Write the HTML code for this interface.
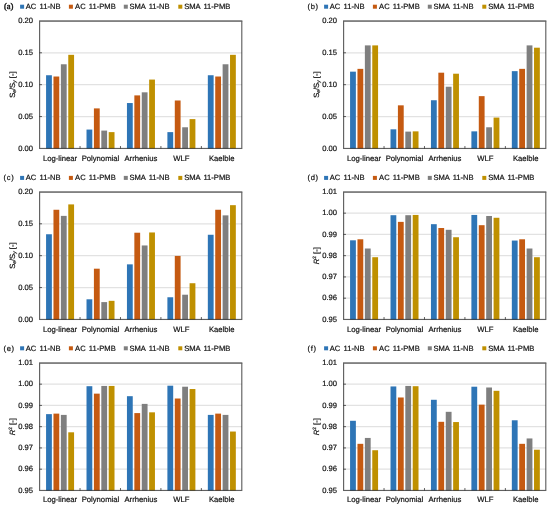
<!DOCTYPE html>
<html lang="en">
<head>
<meta charset="utf-8">
<title>Figure</title>
<style>
html,body{margin:0;padding:0;background:#fff;}
body{width:550px;height:507px;overflow:hidden;}
svg{display:block;filter:blur(0.3px);}
text{font-family:"Liberation Sans",Arial,sans-serif;font-size:7.6px;fill:#111;stroke:#111;stroke-width:0.2px;text-rendering:geometricPrecision;}
.ser{font-family:"Liberation Serif","Times New Roman",serif;font-size:8.6px;stroke-width:0.4px;}
.lg{font-size:7.6px;word-spacing:1.1px;}
.xl{font-size:7.7px;}
.pl{letter-spacing:0.65px;}
.it{font-style:italic;}
.sub{font-size:5px;font-style:italic;}
.sup{font-size:4.7px;}
</style>
</head>
<body>
<svg width="550" height="507" viewBox="0 0 550 507">
<rect x="0" y="0" width="550" height="507" fill="#ffffff"/>

<g transform="translate(0,0)">
<g>
<text x="3.9" y="9" class="ser">(a)</text>
<rect x="20.1" y="4.7" width="4" height="4" fill="#2E75B6"/>
<text x="25.8" y="9" class="lg">AC 11-NB</text>
<rect x="68.9" y="4.7" width="4" height="4" fill="#C55A11"/>
<text x="75.1" y="9" class="lg">AC 11-PMB</text>
<rect x="123.8" y="4.7" width="4" height="4" fill="#7F7F7F"/>
<text x="129.4" y="9" class="lg">SMA 11-NB</text>
<rect x="178.3" y="4.7" width="4" height="4" fill="#BF9000"/>
<text x="184.2" y="9" class="lg">SMA 11-PMB</text>
</g>
<line x1="39.6" y1="116.56" x2="241.8" y2="116.56" stroke="#e2e2e2" stroke-width="1.2"/>
<line x1="39.6" y1="84.67" x2="241.8" y2="84.67" stroke="#e2e2e2" stroke-width="1.2"/>
<line x1="39.6" y1="52.79" x2="241.8" y2="52.79" stroke="#e2e2e2" stroke-width="1.2"/>
<rect x="46.07" y="75.24" width="5.8" height="73.21" fill="#2E75B6"/>
<rect x="53.47" y="76.51" width="5.8" height="71.94" fill="#C55A11"/>
<rect x="60.87" y="64.27" width="5.8" height="84.18" fill="#7F7F7F"/>
<rect x="68.27" y="54.83" width="5.8" height="93.62" fill="#BF9000"/>
<rect x="86.51" y="129.57" width="5.8" height="18.88" fill="#2E75B6"/>
<rect x="93.91" y="108.4" width="5.8" height="40.05" fill="#C55A11"/>
<rect x="101.31" y="130.59" width="5.8" height="17.86" fill="#7F7F7F"/>
<rect x="108.71" y="132.12" width="5.8" height="16.33" fill="#BF9000"/>
<rect x="126.95" y="103.04" width="5.8" height="45.41" fill="#2E75B6"/>
<rect x="134.35" y="95.39" width="5.8" height="53.06" fill="#C55A11"/>
<rect x="141.75" y="92.33" width="5.8" height="56.12" fill="#7F7F7F"/>
<rect x="149.15" y="79.57" width="5.8" height="68.88" fill="#BF9000"/>
<rect x="167.39" y="132.12" width="5.8" height="16.33" fill="#2E75B6"/>
<rect x="174.79" y="100.49" width="5.8" height="47.96" fill="#C55A11"/>
<rect x="182.19" y="127.28" width="5.8" height="21.17" fill="#7F7F7F"/>
<rect x="189.59" y="119.11" width="5.8" height="29.34" fill="#BF9000"/>
<rect x="207.83" y="75.24" width="5.8" height="73.21" fill="#2E75B6"/>
<rect x="215.23" y="76.51" width="5.8" height="71.94" fill="#C55A11"/>
<rect x="222.63" y="64.27" width="5.8" height="84.18" fill="#7F7F7F"/>
<rect x="230.03" y="54.83" width="5.8" height="93.62" fill="#BF9000"/>
<line x1="39.6" y1="116.56" x2="42.0" y2="116.56" stroke="#606060" stroke-width="1"/>
<line x1="39.6" y1="84.67" x2="42.0" y2="84.67" stroke="#606060" stroke-width="1"/>
<line x1="39.6" y1="52.79" x2="42.0" y2="52.79" stroke="#606060" stroke-width="1"/>
<line x1="80.04" y1="148.45" x2="80.04" y2="146.04999999999998" stroke="#606060" stroke-width="1"/>
<line x1="120.48" y1="148.45" x2="120.48" y2="146.04999999999998" stroke="#606060" stroke-width="1"/>
<line x1="160.92" y1="148.45" x2="160.92" y2="146.04999999999998" stroke="#606060" stroke-width="1"/>
<line x1="201.36" y1="148.45" x2="201.36" y2="146.04999999999998" stroke="#606060" stroke-width="1"/>
<rect x="39.6" y="20.9" width="202.2" height="127.55" fill="none" stroke="#606060" stroke-width="1.15" style="mix-blend-mode:multiply"/>
<line x1="39.1" y1="21.5" x2="242.3" y2="21.5" stroke="#606060" stroke-width="0.6"/>
<text x="33" y="150.75" text-anchor="end" font-size="7.5">0.00</text>
<text x="33" y="118.86" text-anchor="end" font-size="7.5">0.05</text>
<text x="33" y="86.97" text-anchor="end" font-size="7.5">0.10</text>
<text x="33" y="55.09" text-anchor="end" font-size="7.5">0.15</text>
<text x="33" y="23.2" text-anchor="end" font-size="7.5">0.20</text>
<text x="60.02" y="161" text-anchor="middle" class="xl">Log-linear</text>
<text x="100.46" y="161" text-anchor="middle" class="xl">Polynomial</text>
<text x="140.9" y="161" text-anchor="middle" class="xl">Arrhenius</text>
<text x="181.34" y="161" text-anchor="middle" class="xl">WLF</text>
<text x="221.78" y="161" text-anchor="middle" class="xl">Kaelble</text>
<text transform="translate(14.5,84.67) rotate(-90)" text-anchor="middle">S<tspan class="sub" dy="1.5">e</tspan><tspan dy="-1.5">/S</tspan><tspan class="sub" dy="1.5">y</tspan><tspan dy="-1.5"> [-]</tspan></text>
</g>
<g transform="translate(304,0)">
<g>
<text x="3.5" y="9" class="pl">(b)</text>
<rect x="20.1" y="4.7" width="4" height="4" fill="#2E75B6"/>
<text x="25.8" y="9" class="lg">AC 11-NB</text>
<rect x="68.9" y="4.7" width="4" height="4" fill="#C55A11"/>
<text x="75.1" y="9" class="lg">AC 11-PMB</text>
<rect x="123.8" y="4.7" width="4" height="4" fill="#7F7F7F"/>
<text x="129.4" y="9" class="lg">SMA 11-NB</text>
<rect x="178.3" y="4.7" width="4" height="4" fill="#BF9000"/>
<text x="184.2" y="9" class="lg">SMA 11-PMB</text>
</g>
<line x1="39.6" y1="116.56" x2="241.8" y2="116.56" stroke="#e2e2e2" stroke-width="1.2"/>
<line x1="39.6" y1="84.67" x2="241.8" y2="84.67" stroke="#e2e2e2" stroke-width="1.2"/>
<line x1="39.6" y1="52.79" x2="241.8" y2="52.79" stroke="#e2e2e2" stroke-width="1.2"/>
<rect x="46.07" y="71.66" width="5.8" height="76.79" fill="#2E75B6"/>
<rect x="53.47" y="68.86" width="5.8" height="79.59" fill="#C55A11"/>
<rect x="60.87" y="45.39" width="5.8" height="103.06" fill="#7F7F7F"/>
<rect x="68.27" y="45.39" width="5.8" height="103.06" fill="#BF9000"/>
<rect x="86.51" y="129.32" width="5.8" height="19.13" fill="#2E75B6"/>
<rect x="93.91" y="105.34" width="5.8" height="43.11" fill="#C55A11"/>
<rect x="101.31" y="131.61" width="5.8" height="16.84" fill="#7F7F7F"/>
<rect x="108.71" y="131.36" width="5.8" height="17.09" fill="#BF9000"/>
<rect x="126.95" y="100.24" width="5.8" height="48.21" fill="#2E75B6"/>
<rect x="134.35" y="72.69" width="5.8" height="75.76" fill="#C55A11"/>
<rect x="141.75" y="86.72" width="5.8" height="61.73" fill="#7F7F7F"/>
<rect x="149.15" y="73.71" width="5.8" height="74.74" fill="#BF9000"/>
<rect x="167.39" y="131.36" width="5.8" height="17.09" fill="#2E75B6"/>
<rect x="174.79" y="96.15" width="5.8" height="52.3" fill="#C55A11"/>
<rect x="182.19" y="127.28" width="5.8" height="21.17" fill="#7F7F7F"/>
<rect x="189.59" y="117.58" width="5.8" height="30.87" fill="#BF9000"/>
<rect x="207.83" y="71.15" width="5.8" height="77.3" fill="#2E75B6"/>
<rect x="215.23" y="68.86" width="5.8" height="79.59" fill="#C55A11"/>
<rect x="222.63" y="45.39" width="5.8" height="103.06" fill="#7F7F7F"/>
<rect x="230.03" y="47.69" width="5.8" height="100.76" fill="#BF9000"/>
<line x1="39.6" y1="116.56" x2="42.0" y2="116.56" stroke="#606060" stroke-width="1"/>
<line x1="39.6" y1="84.67" x2="42.0" y2="84.67" stroke="#606060" stroke-width="1"/>
<line x1="39.6" y1="52.79" x2="42.0" y2="52.79" stroke="#606060" stroke-width="1"/>
<line x1="80.04" y1="148.45" x2="80.04" y2="146.04999999999998" stroke="#606060" stroke-width="1"/>
<line x1="120.48" y1="148.45" x2="120.48" y2="146.04999999999998" stroke="#606060" stroke-width="1"/>
<line x1="160.92" y1="148.45" x2="160.92" y2="146.04999999999998" stroke="#606060" stroke-width="1"/>
<line x1="201.36" y1="148.45" x2="201.36" y2="146.04999999999998" stroke="#606060" stroke-width="1"/>
<rect x="39.6" y="20.9" width="202.2" height="127.55" fill="none" stroke="#606060" stroke-width="1.15" style="mix-blend-mode:multiply"/>
<line x1="39.1" y1="21.5" x2="242.3" y2="21.5" stroke="#606060" stroke-width="0.6"/>
<text x="33" y="150.75" text-anchor="end" font-size="7.5">0.00</text>
<text x="33" y="118.86" text-anchor="end" font-size="7.5">0.05</text>
<text x="33" y="86.97" text-anchor="end" font-size="7.5">0.10</text>
<text x="33" y="55.09" text-anchor="end" font-size="7.5">0.15</text>
<text x="33" y="23.2" text-anchor="end" font-size="7.5">0.20</text>
<text x="60.02" y="161" text-anchor="middle" class="xl">Log-linear</text>
<text x="100.46" y="161" text-anchor="middle" class="xl">Polynomial</text>
<text x="140.9" y="161" text-anchor="middle" class="xl">Arrhenius</text>
<text x="181.34" y="161" text-anchor="middle" class="xl">WLF</text>
<text x="221.78" y="161" text-anchor="middle" class="xl">Kaelble</text>
<text transform="translate(14.5,84.67) rotate(-90)" text-anchor="middle">S<tspan class="sub" dy="1.5">e</tspan><tspan dy="-1.5">/S</tspan><tspan class="sub" dy="1.5">y</tspan><tspan dy="-1.5"> [-]</tspan></text>
</g>
<g transform="translate(0,171)">
<g>
<text x="3.5" y="9" class="pl">(c)</text>
<rect x="20.1" y="4.9" width="4" height="4" fill="#2E75B6"/>
<text x="25.8" y="9" class="lg">AC 11-NB</text>
<rect x="68.9" y="4.9" width="4" height="4" fill="#C55A11"/>
<text x="75.1" y="9" class="lg">AC 11-PMB</text>
<rect x="123.8" y="4.9" width="4" height="4" fill="#7F7F7F"/>
<text x="129.4" y="9" class="lg">SMA 11-NB</text>
<rect x="178.3" y="4.9" width="4" height="4" fill="#BF9000"/>
<text x="184.2" y="9" class="lg">SMA 11-PMB</text>
</g>
<line x1="39.6" y1="116.56" x2="241.8" y2="116.56" stroke="#e2e2e2" stroke-width="1.2"/>
<line x1="39.6" y1="84.67" x2="241.8" y2="84.67" stroke="#e2e2e2" stroke-width="1.2"/>
<line x1="39.6" y1="52.79" x2="241.8" y2="52.79" stroke="#e2e2e2" stroke-width="1.2"/>
<rect x="46.07" y="63.25" width="5.8" height="85.2" fill="#2E75B6"/>
<rect x="53.47" y="38.76" width="5.8" height="109.69" fill="#C55A11"/>
<rect x="60.87" y="44.88" width="5.8" height="103.57" fill="#7F7F7F"/>
<rect x="68.27" y="33.4" width="5.8" height="115.05" fill="#BF9000"/>
<rect x="86.51" y="128.3" width="5.8" height="20.15" fill="#2E75B6"/>
<rect x="93.91" y="97.69" width="5.8" height="50.76" fill="#C55A11"/>
<rect x="101.31" y="131.1" width="5.8" height="17.35" fill="#7F7F7F"/>
<rect x="108.71" y="129.83" width="5.8" height="18.62" fill="#BF9000"/>
<rect x="126.95" y="93.35" width="5.8" height="55.1" fill="#2E75B6"/>
<rect x="134.35" y="61.72" width="5.8" height="86.73" fill="#C55A11"/>
<rect x="141.75" y="74.47" width="5.8" height="73.98" fill="#7F7F7F"/>
<rect x="149.15" y="61.46" width="5.8" height="86.99" fill="#BF9000"/>
<rect x="167.39" y="126.26" width="5.8" height="22.19" fill="#2E75B6"/>
<rect x="174.79" y="84.93" width="5.8" height="63.52" fill="#C55A11"/>
<rect x="182.19" y="123.71" width="5.8" height="24.74" fill="#7F7F7F"/>
<rect x="189.59" y="112.23" width="5.8" height="36.22" fill="#BF9000"/>
<rect x="207.83" y="63.76" width="5.8" height="84.69" fill="#2E75B6"/>
<rect x="215.23" y="38.76" width="5.8" height="109.69" fill="#C55A11"/>
<rect x="222.63" y="44.37" width="5.8" height="104.08" fill="#7F7F7F"/>
<rect x="230.03" y="34.17" width="5.8" height="114.28" fill="#BF9000"/>
<line x1="39.6" y1="116.56" x2="42.0" y2="116.56" stroke="#606060" stroke-width="1"/>
<line x1="39.6" y1="84.67" x2="42.0" y2="84.67" stroke="#606060" stroke-width="1"/>
<line x1="39.6" y1="52.79" x2="42.0" y2="52.79" stroke="#606060" stroke-width="1"/>
<line x1="80.04" y1="148.45" x2="80.04" y2="146.04999999999998" stroke="#606060" stroke-width="1"/>
<line x1="120.48" y1="148.45" x2="120.48" y2="146.04999999999998" stroke="#606060" stroke-width="1"/>
<line x1="160.92" y1="148.45" x2="160.92" y2="146.04999999999998" stroke="#606060" stroke-width="1"/>
<line x1="201.36" y1="148.45" x2="201.36" y2="146.04999999999998" stroke="#606060" stroke-width="1"/>
<rect x="39.6" y="20.9" width="202.2" height="127.55" fill="none" stroke="#606060" stroke-width="1.15" style="mix-blend-mode:multiply"/>
<line x1="39.1" y1="21.5" x2="242.3" y2="21.5" stroke="#606060" stroke-width="0.6"/>
<text x="33" y="150.75" text-anchor="end" font-size="7.5">0.00</text>
<text x="33" y="118.86" text-anchor="end" font-size="7.5">0.05</text>
<text x="33" y="86.97" text-anchor="end" font-size="7.5">0.10</text>
<text x="33" y="55.09" text-anchor="end" font-size="7.5">0.15</text>
<text x="33" y="23.2" text-anchor="end" font-size="7.5">0.20</text>
<text x="60.02" y="161" text-anchor="middle" class="xl">Log-linear</text>
<text x="100.46" y="161" text-anchor="middle" class="xl">Polynomial</text>
<text x="140.9" y="161" text-anchor="middle" class="xl">Arrhenius</text>
<text x="181.34" y="161" text-anchor="middle" class="xl">WLF</text>
<text x="221.78" y="161" text-anchor="middle" class="xl">Kaelble</text>
<text transform="translate(14.5,84.67) rotate(-90)" text-anchor="middle">S<tspan class="sub" dy="1.5">e</tspan><tspan dy="-1.5">/S</tspan><tspan class="sub" dy="1.5">y</tspan><tspan dy="-1.5"> [-]</tspan></text>
</g>
<g transform="translate(304,171)">
<g>
<text x="3.5" y="9" class="pl">(d)</text>
<rect x="20.1" y="4.9" width="4" height="4" fill="#2E75B6"/>
<text x="25.8" y="9" class="lg">AC 11-NB</text>
<rect x="68.9" y="4.9" width="4" height="4" fill="#C55A11"/>
<text x="75.1" y="9" class="lg">AC 11-PMB</text>
<rect x="123.8" y="4.9" width="4" height="4" fill="#7F7F7F"/>
<text x="129.4" y="9" class="lg">SMA 11-NB</text>
<rect x="178.3" y="4.9" width="4" height="4" fill="#BF9000"/>
<text x="184.2" y="9" class="lg">SMA 11-PMB</text>
</g>
<line x1="39.6" y1="127.19" x2="241.8" y2="127.19" stroke="#e2e2e2" stroke-width="1.2"/>
<line x1="39.6" y1="105.93" x2="241.8" y2="105.93" stroke="#e2e2e2" stroke-width="1.2"/>
<line x1="39.6" y1="84.67" x2="241.8" y2="84.67" stroke="#e2e2e2" stroke-width="1.2"/>
<line x1="39.6" y1="63.42" x2="241.8" y2="63.42" stroke="#e2e2e2" stroke-width="1.2"/>
<line x1="39.6" y1="42.16" x2="241.8" y2="42.16" stroke="#e2e2e2" stroke-width="1.2"/>
<rect x="46.07" y="69.31" width="5.8" height="79.14" fill="#2E75B6"/>
<rect x="53.47" y="68.28" width="5.8" height="80.17" fill="#C55A11"/>
<rect x="60.87" y="77.51" width="5.8" height="70.94" fill="#7F7F7F"/>
<rect x="68.27" y="86.21" width="5.8" height="62.24" fill="#BF9000"/>
<rect x="86.51" y="44.2" width="5.8" height="104.25" fill="#2E75B6"/>
<rect x="93.91" y="50.87" width="5.8" height="97.58" fill="#C55A11"/>
<rect x="101.31" y="44.2" width="5.8" height="104.25" fill="#7F7F7F"/>
<rect x="108.71" y="43.94" width="5.8" height="104.51" fill="#BF9000"/>
<rect x="126.95" y="53.17" width="5.8" height="95.28" fill="#2E75B6"/>
<rect x="134.35" y="57.02" width="5.8" height="91.43" fill="#C55A11"/>
<rect x="141.75" y="58.8" width="5.8" height="89.65" fill="#7F7F7F"/>
<rect x="149.15" y="66.24" width="5.8" height="82.21" fill="#BF9000"/>
<rect x="167.39" y="43.94" width="5.8" height="104.51" fill="#2E75B6"/>
<rect x="174.79" y="54.19" width="5.8" height="94.26" fill="#C55A11"/>
<rect x="182.19" y="44.99" width="5.8" height="103.46" fill="#7F7F7F"/>
<rect x="189.59" y="46.77" width="5.8" height="101.68" fill="#BF9000"/>
<rect x="207.83" y="69.56" width="5.8" height="78.89" fill="#2E75B6"/>
<rect x="215.23" y="68.28" width="5.8" height="80.17" fill="#C55A11"/>
<rect x="222.63" y="77.51" width="5.8" height="70.94" fill="#7F7F7F"/>
<rect x="230.03" y="86.21" width="5.8" height="62.24" fill="#BF9000"/>
<line x1="39.6" y1="127.19" x2="42.0" y2="127.19" stroke="#606060" stroke-width="1"/>
<line x1="39.6" y1="105.93" x2="42.0" y2="105.93" stroke="#606060" stroke-width="1"/>
<line x1="39.6" y1="84.67" x2="42.0" y2="84.67" stroke="#606060" stroke-width="1"/>
<line x1="39.6" y1="63.42" x2="42.0" y2="63.42" stroke="#606060" stroke-width="1"/>
<line x1="39.6" y1="42.16" x2="42.0" y2="42.16" stroke="#606060" stroke-width="1"/>
<line x1="80.04" y1="148.45" x2="80.04" y2="146.04999999999998" stroke="#606060" stroke-width="1"/>
<line x1="120.48" y1="148.45" x2="120.48" y2="146.04999999999998" stroke="#606060" stroke-width="1"/>
<line x1="160.92" y1="148.45" x2="160.92" y2="146.04999999999998" stroke="#606060" stroke-width="1"/>
<line x1="201.36" y1="148.45" x2="201.36" y2="146.04999999999998" stroke="#606060" stroke-width="1"/>
<rect x="39.6" y="20.9" width="202.2" height="127.55" fill="none" stroke="#606060" stroke-width="1.15" style="mix-blend-mode:multiply"/>
<line x1="39.1" y1="21.5" x2="242.3" y2="21.5" stroke="#606060" stroke-width="0.6"/>
<text x="33" y="150.75" text-anchor="end" font-size="7.5">0.95</text>
<text x="33" y="129.49" text-anchor="end" font-size="7.5">0.96</text>
<text x="33" y="108.23" text-anchor="end" font-size="7.5">0.97</text>
<text x="33" y="86.97" text-anchor="end" font-size="7.5">0.98</text>
<text x="33" y="65.72" text-anchor="end" font-size="7.5">0.99</text>
<text x="33" y="44.46" text-anchor="end" font-size="7.5">1.00</text>
<text x="33" y="23.2" text-anchor="end" font-size="7.5">1.01</text>
<text x="60.02" y="161" text-anchor="middle" class="xl">Log-linear</text>
<text x="100.46" y="161" text-anchor="middle" class="xl">Polynomial</text>
<text x="140.9" y="161" text-anchor="middle" class="xl">Arrhenius</text>
<text x="181.34" y="161" text-anchor="middle" class="xl">WLF</text>
<text x="221.78" y="161" text-anchor="middle" class="xl">Kaelble</text>
<text transform="translate(14.5,84.67) rotate(-90)" text-anchor="middle"><tspan class="it">R</tspan><tspan class="sup" dy="-2.4">2</tspan><tspan dy="2.4"> [-]</tspan></text>
</g>
<g transform="translate(0,342)">
<g>
<text x="3.5" y="9" class="pl">(e)</text>
<rect x="20.1" y="4.3" width="4" height="4" fill="#2E75B6"/>
<text x="25.8" y="9" class="lg">AC 11-NB</text>
<rect x="68.9" y="4.3" width="4" height="4" fill="#C55A11"/>
<text x="75.1" y="9" class="lg">AC 11-PMB</text>
<rect x="123.8" y="4.3" width="4" height="4" fill="#7F7F7F"/>
<text x="129.4" y="9" class="lg">SMA 11-NB</text>
<rect x="178.3" y="4.3" width="4" height="4" fill="#BF9000"/>
<text x="184.2" y="9" class="lg">SMA 11-PMB</text>
</g>
<line x1="39.6" y1="127.19" x2="241.8" y2="127.19" stroke="#e2e2e2" stroke-width="1.2"/>
<line x1="39.6" y1="105.93" x2="241.8" y2="105.93" stroke="#e2e2e2" stroke-width="1.2"/>
<line x1="39.6" y1="84.67" x2="241.8" y2="84.67" stroke="#e2e2e2" stroke-width="1.2"/>
<line x1="39.6" y1="63.42" x2="241.8" y2="63.42" stroke="#e2e2e2" stroke-width="1.2"/>
<line x1="39.6" y1="42.16" x2="241.8" y2="42.16" stroke="#e2e2e2" stroke-width="1.2"/>
<rect x="46.07" y="72.13" width="5.8" height="76.32" fill="#2E75B6"/>
<rect x="53.47" y="71.62" width="5.8" height="76.83" fill="#C55A11"/>
<rect x="60.87" y="72.9" width="5.8" height="75.55" fill="#7F7F7F"/>
<rect x="68.27" y="90.31" width="5.8" height="58.14" fill="#BF9000"/>
<rect x="86.51" y="44.2" width="5.8" height="104.25" fill="#2E75B6"/>
<rect x="93.91" y="51.64" width="5.8" height="96.81" fill="#C55A11"/>
<rect x="101.31" y="43.94" width="5.8" height="104.51" fill="#7F7F7F"/>
<rect x="108.71" y="43.94" width="5.8" height="104.51" fill="#BF9000"/>
<rect x="126.95" y="54.19" width="5.8" height="94.26" fill="#2E75B6"/>
<rect x="134.35" y="71.09" width="5.8" height="77.36" fill="#C55A11"/>
<rect x="141.75" y="61.89" width="5.8" height="86.56" fill="#7F7F7F"/>
<rect x="149.15" y="70.33" width="5.8" height="78.12" fill="#BF9000"/>
<rect x="167.39" y="43.69" width="5.8" height="104.76" fill="#2E75B6"/>
<rect x="174.79" y="56.51" width="5.8" height="91.94" fill="#C55A11"/>
<rect x="182.19" y="44.71" width="5.8" height="103.74" fill="#7F7F7F"/>
<rect x="189.59" y="47.03" width="5.8" height="101.42" fill="#BF9000"/>
<rect x="207.83" y="72.9" width="5.8" height="75.55" fill="#2E75B6"/>
<rect x="215.23" y="71.62" width="5.8" height="76.83" fill="#C55A11"/>
<rect x="222.63" y="72.9" width="5.8" height="75.55" fill="#7F7F7F"/>
<rect x="230.03" y="89.54" width="5.8" height="58.91" fill="#BF9000"/>
<line x1="39.6" y1="127.19" x2="42.0" y2="127.19" stroke="#606060" stroke-width="1"/>
<line x1="39.6" y1="105.93" x2="42.0" y2="105.93" stroke="#606060" stroke-width="1"/>
<line x1="39.6" y1="84.67" x2="42.0" y2="84.67" stroke="#606060" stroke-width="1"/>
<line x1="39.6" y1="63.42" x2="42.0" y2="63.42" stroke="#606060" stroke-width="1"/>
<line x1="39.6" y1="42.16" x2="42.0" y2="42.16" stroke="#606060" stroke-width="1"/>
<line x1="80.04" y1="148.45" x2="80.04" y2="146.04999999999998" stroke="#606060" stroke-width="1"/>
<line x1="120.48" y1="148.45" x2="120.48" y2="146.04999999999998" stroke="#606060" stroke-width="1"/>
<line x1="160.92" y1="148.45" x2="160.92" y2="146.04999999999998" stroke="#606060" stroke-width="1"/>
<line x1="201.36" y1="148.45" x2="201.36" y2="146.04999999999998" stroke="#606060" stroke-width="1"/>
<rect x="39.6" y="20.9" width="202.2" height="127.55" fill="none" stroke="#606060" stroke-width="1.15" style="mix-blend-mode:multiply"/>
<line x1="39.1" y1="21.5" x2="242.3" y2="21.5" stroke="#606060" stroke-width="0.6"/>
<text x="33" y="150.75" text-anchor="end" font-size="7.5">0.95</text>
<text x="33" y="129.49" text-anchor="end" font-size="7.5">0.96</text>
<text x="33" y="108.23" text-anchor="end" font-size="7.5">0.97</text>
<text x="33" y="86.97" text-anchor="end" font-size="7.5">0.98</text>
<text x="33" y="65.72" text-anchor="end" font-size="7.5">0.99</text>
<text x="33" y="44.46" text-anchor="end" font-size="7.5">1.00</text>
<text x="33" y="23.2" text-anchor="end" font-size="7.5">1.01</text>
<text x="60.02" y="160" text-anchor="middle" class="xl">Log-linear</text>
<text x="100.46" y="160" text-anchor="middle" class="xl">Polynomial</text>
<text x="140.9" y="160" text-anchor="middle" class="xl">Arrhenius</text>
<text x="181.34" y="160" text-anchor="middle" class="xl">WLF</text>
<text x="221.78" y="160" text-anchor="middle" class="xl">Kaelble</text>
<text transform="translate(14.5,84.67) rotate(-90)" text-anchor="middle"><tspan class="it">R</tspan><tspan class="sup" dy="-2.4">2</tspan><tspan dy="2.4"> [-]</tspan></text>
</g>
<g transform="translate(304,342)">
<g>
<text x="3.5" y="9" class="pl">(f)</text>
<rect x="20.1" y="4.3" width="4" height="4" fill="#2E75B6"/>
<text x="25.8" y="9" class="lg">AC 11-NB</text>
<rect x="68.9" y="4.3" width="4" height="4" fill="#C55A11"/>
<text x="75.1" y="9" class="lg">AC 11-PMB</text>
<rect x="123.8" y="4.3" width="4" height="4" fill="#7F7F7F"/>
<text x="129.4" y="9" class="lg">SMA 11-NB</text>
<rect x="178.3" y="4.3" width="4" height="4" fill="#BF9000"/>
<text x="184.2" y="9" class="lg">SMA 11-PMB</text>
</g>
<line x1="39.6" y1="127.19" x2="241.8" y2="127.19" stroke="#e2e2e2" stroke-width="1.2"/>
<line x1="39.6" y1="105.93" x2="241.8" y2="105.93" stroke="#e2e2e2" stroke-width="1.2"/>
<line x1="39.6" y1="84.67" x2="241.8" y2="84.67" stroke="#e2e2e2" stroke-width="1.2"/>
<line x1="39.6" y1="63.42" x2="241.8" y2="63.42" stroke="#e2e2e2" stroke-width="1.2"/>
<line x1="39.6" y1="42.16" x2="241.8" y2="42.16" stroke="#e2e2e2" stroke-width="1.2"/>
<rect x="46.07" y="78.79" width="5.8" height="69.66" fill="#2E75B6"/>
<rect x="53.47" y="101.83" width="5.8" height="46.62" fill="#C55A11"/>
<rect x="60.87" y="95.94" width="5.8" height="52.51" fill="#7F7F7F"/>
<rect x="68.27" y="108.23" width="5.8" height="40.22" fill="#BF9000"/>
<rect x="86.51" y="44.45" width="5.8" height="104" fill="#2E75B6"/>
<rect x="93.91" y="55.49" width="5.8" height="92.96" fill="#C55A11"/>
<rect x="101.31" y="43.94" width="5.8" height="104.51" fill="#7F7F7F"/>
<rect x="108.71" y="44.2" width="5.8" height="104.25" fill="#BF9000"/>
<rect x="126.95" y="57.78" width="5.8" height="90.67" fill="#2E75B6"/>
<rect x="134.35" y="79.81" width="5.8" height="68.64" fill="#C55A11"/>
<rect x="141.75" y="69.82" width="5.8" height="78.63" fill="#7F7F7F"/>
<rect x="149.15" y="80.06" width="5.8" height="68.39" fill="#BF9000"/>
<rect x="167.39" y="44.71" width="5.8" height="103.74" fill="#2E75B6"/>
<rect x="174.79" y="62.65" width="5.8" height="85.8" fill="#C55A11"/>
<rect x="182.19" y="45.5" width="5.8" height="102.95" fill="#7F7F7F"/>
<rect x="189.59" y="48.81" width="5.8" height="99.64" fill="#BF9000"/>
<rect x="207.83" y="78.28" width="5.8" height="70.17" fill="#2E75B6"/>
<rect x="215.23" y="101.83" width="5.8" height="46.62" fill="#C55A11"/>
<rect x="222.63" y="96.45" width="5.8" height="52" fill="#7F7F7F"/>
<rect x="230.03" y="107.72" width="5.8" height="40.73" fill="#BF9000"/>
<line x1="39.6" y1="127.19" x2="42.0" y2="127.19" stroke="#606060" stroke-width="1"/>
<line x1="39.6" y1="105.93" x2="42.0" y2="105.93" stroke="#606060" stroke-width="1"/>
<line x1="39.6" y1="84.67" x2="42.0" y2="84.67" stroke="#606060" stroke-width="1"/>
<line x1="39.6" y1="63.42" x2="42.0" y2="63.42" stroke="#606060" stroke-width="1"/>
<line x1="39.6" y1="42.16" x2="42.0" y2="42.16" stroke="#606060" stroke-width="1"/>
<line x1="80.04" y1="148.45" x2="80.04" y2="146.04999999999998" stroke="#606060" stroke-width="1"/>
<line x1="120.48" y1="148.45" x2="120.48" y2="146.04999999999998" stroke="#606060" stroke-width="1"/>
<line x1="160.92" y1="148.45" x2="160.92" y2="146.04999999999998" stroke="#606060" stroke-width="1"/>
<line x1="201.36" y1="148.45" x2="201.36" y2="146.04999999999998" stroke="#606060" stroke-width="1"/>
<rect x="39.6" y="20.9" width="202.2" height="127.55" fill="none" stroke="#606060" stroke-width="1.15" style="mix-blend-mode:multiply"/>
<line x1="39.1" y1="21.5" x2="242.3" y2="21.5" stroke="#606060" stroke-width="0.6"/>
<text x="33" y="150.75" text-anchor="end" font-size="7.5">0.95</text>
<text x="33" y="129.49" text-anchor="end" font-size="7.5">0.96</text>
<text x="33" y="108.23" text-anchor="end" font-size="7.5">0.97</text>
<text x="33" y="86.97" text-anchor="end" font-size="7.5">0.98</text>
<text x="33" y="65.72" text-anchor="end" font-size="7.5">0.99</text>
<text x="33" y="44.46" text-anchor="end" font-size="7.5">1.00</text>
<text x="33" y="23.2" text-anchor="end" font-size="7.5">1.01</text>
<text x="60.02" y="160" text-anchor="middle" class="xl">Log-linear</text>
<text x="100.46" y="160" text-anchor="middle" class="xl">Polynomial</text>
<text x="140.9" y="160" text-anchor="middle" class="xl">Arrhenius</text>
<text x="181.34" y="160" text-anchor="middle" class="xl">WLF</text>
<text x="221.78" y="160" text-anchor="middle" class="xl">Kaelble</text>
<text transform="translate(14.5,84.67) rotate(-90)" text-anchor="middle"><tspan class="it">R</tspan><tspan class="sup" dy="-2.4">2</tspan><tspan dy="2.4"> [-]</tspan></text>
</g>
</svg>
</body>
</html>
